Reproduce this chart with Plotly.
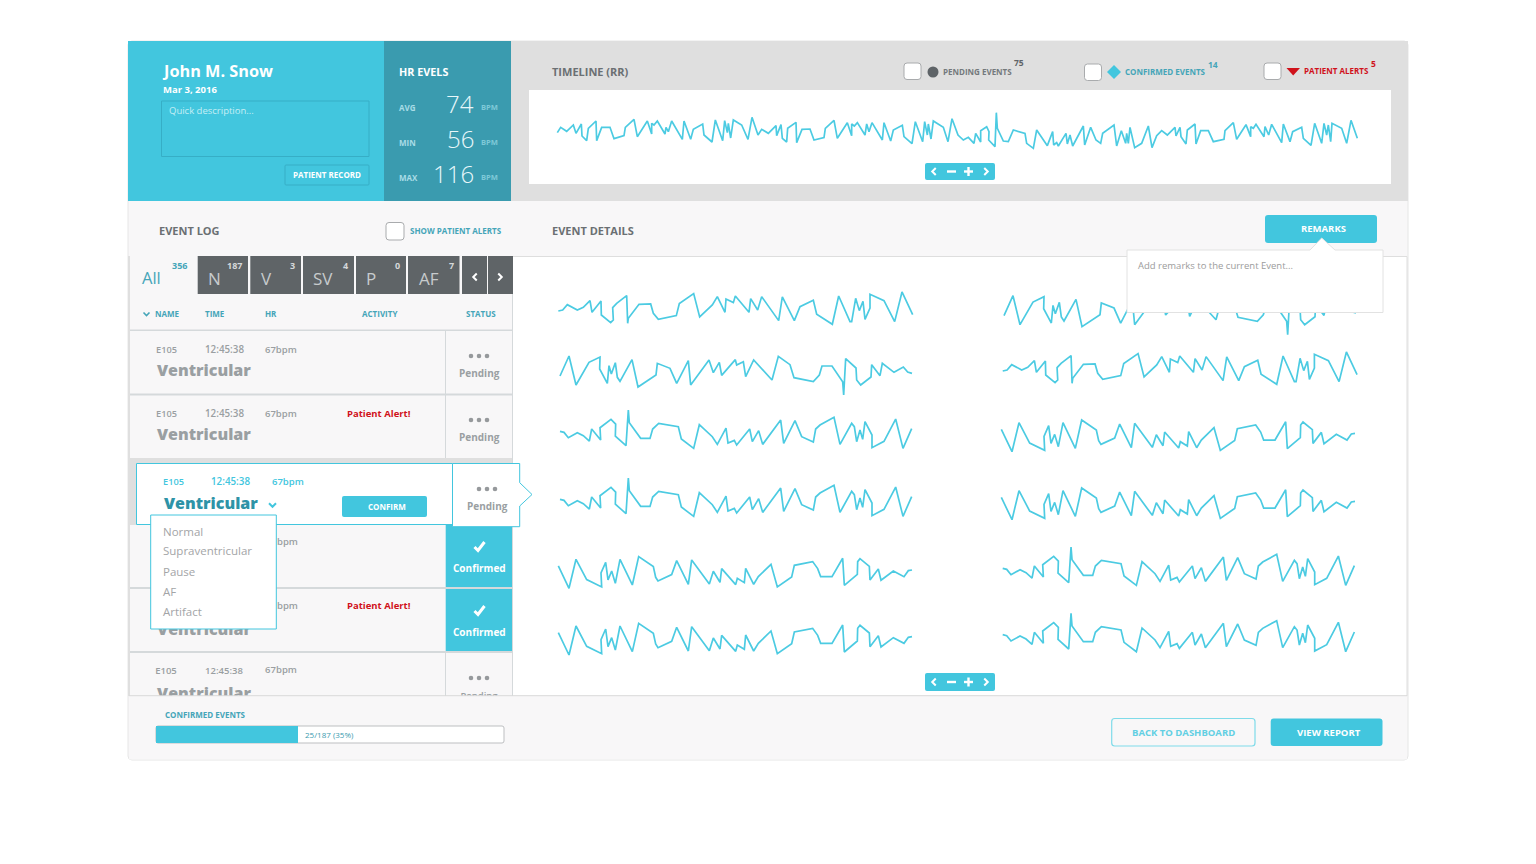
import plotly.graph_objects as go

# waveforms: time, amplitude
wave_a_t = [55,68,82,112,130,150,156,183,184,212,220,218,230,260,263,265,297,332,340,355,409,418,461,479,517,532,555,558,580,586,627,632,653,665,716,727,763,780,820,830,877,896,930,935,947,958,969,975,990,990,1032,1064,1086,1118]
wave_a_v = [-8,-5,11,-5,3,23,-12,22,-20,-43,-35,2,15,38,-45,-30,12,13,-15,-33,-22,14,44,-26,10,35,-12,28,17,37,-12,29,-5,35,-37,34,-37,5,24,-18,-48,37,-40,-40,30,-7,21,-33,1,42,23,-40,49,-19]
wave_b_t = [60,87,108,147,180,179,202,207,214,226,232,240,276,294,348,352,390,410,445,452,507,520,538,545,586,590,610,617,641,696,715,750,762,820,838,846,876,908,911,917,948,950,962,993,995,1020,1027,1062,1090,1103,1116]
wave_b_v = [-3,57,-30,38,54,18,-25,28,3,37,-7,-19,46,-36,0,35,20,-25,43,-30,45,7,38,-1,46,30,40,-5,45,-15,56,31,-8,-20,0,27,27,-20,-60,49,21,-15,-30,-6,31,-2,35,8,24,9,5]
wave_c_t = [60,72,85,112,130,148,155,182,180,213,227,226,258,265,268,302,330,338,356,415,424,461,478,517,532,558,564,583,590,629,637,656,668,722,731,765,785,820,827,840,882,900,935,943,950,960,968,975,996,996,1032,1067,1089,1115]
wave_c_v = [1,-2,-18,-3,-12,-28,8,-25,12,37,23,-13,-42,65,27,-20,-20,8,25,15,-22,-50,21,-15,-38,11,-34,-26,-40,8,-30,3,-38,35,-35,33,-15,-31,8,20,43,-38,25,15,-30,5,-23,30,-10,-48,-29,38,-50,9]
wave_d_t = [55,87,108,140,185,183,197,204,215,226,240,277,296,340,347,354,395,410,445,455,508,520,540,545,587,592,613,617,641,655,693,712,755,763,818,833,842,876,908,913,952,953,960,988,990,1015,1023,1060,1092,1105,1116]
wave_d_v = [22,-45,42,-19,-41,1,33,-20,7,-30,42,-35,50,20,-12,-23,-4,38,-33,40,-32,6,-27,14,-34,-15,-28,15,-33,-10,27,-41,-11,24,35,14,-10,-10,45,-36,-3,35,44,21,-20,13,-21,7,-10,8,10]
timeline_t = [112,122,140,160,168,184,186,200,205,228,230,245,270,282,312,316,342,352,382,395,395,402,412,435,438,445,455,487,492,512,520,548,552,576,586,608,614,622,625,632,640,665,684,696,714,725,745,768,770,783,787,800,803,828,830,846,870,882,912,916,942,952,982,995,995,1003,1012,1035,1040,1047,1056,1087,1092,1112,1120,1147,1152,1176,1186,1208,1214,1222,1225,1233,1240,1270,1284,1296,1314,1330,1345,
              1362,1367,1382,1382,1400,1407,1406,1425,1429,1432,1450,1465,1480,1515,1520,1540,1550,1582,1598,1601,1610,1615,1638,1642,1650,1658,1690,1694,1712,1728,1742,1748,1782,1790,1804,1817,1820,1825,1830,1844,1865,1885,1896,1910,1925,1942,1965,1968,1980,1983,1998,2002,2025,2028,2042,2065,2080,2112,2115,2140,2150,2178,2192,2192,2200,2208,2232,2235,2246,2255,2285,2290,2310,2318,2345,2350,2373,2384,2405,2412,2420,2425,2432,2436,2465,2480,2493,2512]
timeline_v = [-3,13,1,20,-5,23,-13,-27,10,32,-27,13,13,-21,-12,13,37,-15,32,-7,25,20,32,-7,13,0,32,-23,32,-23,7,23,-10,-31,35,-27,33,-3,25,-19,35,20,-23,43,-10,7,-5,18,-12,21,-20,-31,10,28,-33,7,8,-25,-18,10,34,-20,27,-12,23,17,27,-10,23,0,27,-25,27,-28,5,19,-15,-36,30,-30,30,-10,23,-22,32,13,-30,39,-10,-25,-17,
              -35,-5,-31,3,15,0,-25,-45,57,10,-28,-30,5,-5,-35,-50,5,-42,0,-40,-33,-43,-5,-37,-10,-43,17,-40,13,-25,-35,-5,20,-43,3,-35,-5,-35,13,-48,-35,17,-48,-12,3,-10,13,-13,13,-15,-37,5,23,-37,3,3,-30,-23,3,27,-23,21,-15,15,10,22,-15,15,-10,22,-33,23,-30,0,13,-20,-41,25,-35,25,-10,20,-30,25,10,-35,34,-20]

# tabs and readings
tab_labels = ["N", "V", "SV", "P", "AF"]
tab_counts = [187, 3, 4, 0, 7]
hr_labels = ["AVG", "MIN", "MAX"]
hr_values = [74, 56, 116]
dropdown_items = ["Normal", "Supraventricular", "Pause", "AF", "Artifact"]

CYAN = "#42C6DE"
TEAL = "#3A9BAF"
TEAL_TXT = "#45A5B8"
GREY_BG = "#DFDFDF"
PANEL = "#F8F7F8"
TAB = "#5F6467"
ROW_LINE = "#D5D9DB"
MUTED = "#9A9FA2"
HEAD = "#6B7073"
RED = "#D0121B"
FONT = "Open Sans"

shapes = []
annotations = []


def rect(x0, y0, x1, y1, fill=None, line=None, lw=1, r=0, layer="below"):
    if r:
        p = (f"M{x0+r},{y0} L{x1-r},{y0} Q{x1},{y0} {x1},{y0+r} L{x1},{y1-r} Q{x1},{y1} {x1-r},{y1} "
             f"L{x0+r},{y1} Q{x0},{y1} {x0},{y1-r} L{x0},{y0+r} Q{x0},{y0} {x0+r},{y0} Z")
        s = dict(type="path", path=p)
    else:
        s = dict(type="rect", x0=x0, y0=y0, x1=x1, y1=y1)
    s.update(xref="x", yref="y", layer=layer, fillcolor=fill or "rgba(0,0,0,0)",
             line=dict(color=line or "rgba(0,0,0,0)", width=lw if line else 0))
    shapes.append(s)


def path(p, fill=None, line=None, lw=1, layer="below"):
    shapes.append(dict(type="path", path=p, xref="x", yref="y", layer=layer,
                       fillcolor=fill or "rgba(0,0,0,0)",
                       line=dict(color=line or "rgba(0,0,0,0)", width=lw if line else 0)))


def dot(cx, cy, r, fill, layer="below"):
    shapes.append(dict(type="circle", x0=cx-r, y0=cy-r, x1=cx+r, y1=cy+r, xref="x", yref="y",
                       layer=layer, fillcolor=fill, line=dict(width=0)))


def txt(x, y, s, size, color, weight=400, anchor="left"):
    # annotations land about a pixel low and to the right
    dx = 2 if anchor == "left" else 1
    annotations.append(dict(x=x-dx, y=y-1, xref="x", yref="y", text=s, showarrow=False, xanchor=anchor,
                            yanchor="middle", borderpad=0,
                            font=dict(family=FONT, size=size, color=color, weight=weight)))


def chevron(cx, cy, d, color="white", lw=2, s=3.5):
    # d: left, right, down
    if d == "left":
        path(f"M{cx+s/2},{cy-s} L{cx-s/2},{cy} L{cx+s/2},{cy+s}", line=color, lw=lw)
    elif d == "right":
        path(f"M{cx-s/2},{cy-s} L{cx+s/2},{cy} L{cx-s/2},{cy+s}", line=color, lw=lw)
    else:
        path(f"M{cx-s},{cy-s/2} L{cx},{cy+s/2} L{cx+s},{cy-s/2}", line=color, lw=lw)


def pager(y0, y1):
    cy = (y0+y1)/2
    rect(925, y0, 995, y1, fill=CYAN, r=2)
    chevron(934, cy, "left")
    chevron(986, cy, "right")
    rect(947, cy-1.2, 956, cy+1.2, fill="white")
    rect(964, cy-1.2, 973, cy+1.2, fill="white")
    rect(967.3, cy-4.5, 969.7, cy+4.5, fill="white")


def checkbox(x0, y0, x1, y1):
    rect(x0, y0, x1, y1, fill="white", line="#A9ABAD", lw=1, r=3)


def dots(cx, cy, color="#96999C"):
    for dx in (-8, 0, 8):
        dot(cx+dx, cy, 2.3, color)


def tick(cx, cy):
    path(f"M{cx-5},{cy} L{cx-1.5},{cy+3.5} L{cx+5},{cy-5}", line="white", lw=3)


# card and header blocks
rect(128, 41, 1408, 760, fill=PANEL, line="#E6E6E6", r=4)
rect(128, 41, 384, 201, fill=CYAN)
rect(384, 41, 511, 201, fill=TEAL)
rect(511, 41, 1408, 201, fill=GREY_BG)
rect(529, 90, 1391, 184, fill="white")

txt(162.5, 72, "John M. Snow", 16.3, "white", 700)
txt(163.5, 90, "Mar 3, 2016", 9.5, "white", 700)
rect(161.5, 101, 369, 156.5, line="#36AEC6", lw=1)
txt(170, 111, "Quick description...", 9.5, "#C6EEF5")
rect(285, 165, 369, 185, line="#36AEC6", lw=1, r=1)
txt(327.5, 175, "PATIENT RECORD", 8, "white", 700, "center")

txt(399.5, 72, "HR EVELS", 10.8, "white", 700)
for i, y in enumerate([104, 139, 174]):
    txt(400, y+4, hr_labels[i], 8, "#A8DCE6", 700)
    txt(476, y, str(hr_values[i]), 24, "#E8F7FA", 300, "right")
    txt(482, y+4, "BPM", 7.6, "#7FC9D8", 700)

# timeline header
txt(552.5, 72, "TIMELINE (RR)", 11, HEAD, 700)
checkbox(904, 63, 921, 79.5)
dot(933, 72, 5.5, "#5E6367")
txt(943.5, 72, "PENDING EVENTS", 8, "#74797C", 700)
txt(1014.5, 63, "75", 8.5, "#5E6367", 700)
checkbox(1084.5, 64, 1101.5, 80.5)
path("M1114,65 L1121,72 L1114,79 L1107,72 Z", fill=CYAN)
txt(1125.5, 72.5, "CONFIRMED EVENTS", 8, TEAL_TXT, 700)
txt(1208.5, 65, "14", 8.5, TEAL_TXT, 700)
checkbox(1264, 63, 1281, 79.5)
path("M1286.5,68 L1300,68 L1293.2,75.5 Z", fill=RED)
txt(1304.5, 71.5, "PATIENT ALERTS", 8, RED, 700)
txt(1371.5, 64, "5", 8.5, RED, 700)
pager(163, 180)

# event log title row
txt(159.5, 231, "EVENT LOG", 11, HEAD, 700)
checkbox(386, 222.5, 404, 240)
txt(410.5, 231, "SHOW PATIENT ALERTS", 8, TEAL_TXT, 700)
txt(552.5, 231, "EVENT DETAILS", 11, HEAD, 700)

# detail area
rect(513, 257, 1407, 695.5, fill="white")
shapes.append(dict(type="line", x0=513, x1=1407, y0=256.5, y1=256.5, xref="x", yref="y", layer="below",
                   line=dict(color="#DEDEDE", width=1)))
shapes.append(dict(type="line", x0=1407, x1=1407, y0=256.5, y1=696, xref="x", yref="y", layer="below",
                   line=dict(color="#DEDEDE", width=1)))
pager(673, 691)

# tabs
rect(128, 256, 130, 696, fill=GREY_BG)
txt(143, 278, "All", 16.5, TEAL_TXT, 400)
txt(189, 266, "356", 9, TEAL_TXT, 700, "right")
tab_x0 = [197.7, 250.3, 303, 356, 408]
tab_x1 = [248, 301, 354, 406, 459.5]
tab_cx = [215, 267, 324, 372, 430]
for i in range(5):
    rect(tab_x0[i], 256, tab_x1[i], 294, fill=TAB)
    txt(tab_cx[i], 279, tab_labels[i], 17, "#C7CBCD", 400, "center")
    txt(tab_x1[i]-4, 266, str(tab_counts[i]), 9, "#D5D8DA", 700, "right")
rect(462, 256, 487, 294, fill=TAB)
rect(488, 256, 513, 294, fill=TAB)
chevron(475, 277, "left")
chevron(500, 277, "right")

chevron(146.5, 314, "down", TEAL_TXT, 1.6, 3)
txt(155.5, 314, "NAME", 8, TEAL_TXT, 700)
txt(216, 314, "TIME", 8, TEAL_TXT, 700, "center")
txt(271.5, 314, "HR", 8, TEAL_TXT, 700, "center")
txt(380, 314, "ACTIVITY", 8, TEAL_TXT, 700, "center")
txt(481.5, 314, "STATUS", 8, TEAL_TXT, 700, "center")

# rows
rect(130, 329.5, 512, 331, fill=ROW_LINE)
rect(130, 393.5, 512, 395.5, fill=ROW_LINE)
rect(128, 458, 513, 463, fill=GREY_BG)
rect(128, 458, 136, 525, fill=GREY_BG)
rect(130, 587, 512, 589, fill=ROW_LINE)
rect(130, 651, 512, 653, fill=ROW_LINE)
rect(512, 294, 513, 696, fill=ROW_LINE)
for y0, y1 in [(331, 394), (395, 458), (653, 696)]:
    rect(445, y0, 446, y1, fill=ROW_LINE)

for y in [350, 414]:
    txt(167, y, "E105", 9.2, MUTED, 600, "center")
    txt(225, y, "12:45:38", 9.8, MUTED, 600, "center")
    txt(282, y, "67bpm", 9.5, MUTED, 600, "center")
    txt(158, y+21, "Ventricular", 16, MUTED, 800)
    dots(479, y+6)
    txt(480, y+24, "Pending", 10, MUTED, 700, "center")
txt(379.5, 414, "Patient Alert!", 9.5, RED, 700, "center")

# what the dropdown leaves of rows 4 and 5
txt(278, 542, "bpm", 9.5, MUTED, 600)
txt(278, 606, "bpm", 9.5, MUTED, 600)

# confirmed cells
for y0, y1, yt in [(525, 587, 547), (589, 651, 611)]:
    rect(445.7, y0, 512, y1, fill=CYAN)
    tick(479.5, yt)
    txt(480, yt+22, "Confirmed", 10, "white", 700, "center")
txt(379.5, 606, "Patient Alert!", 9.5, RED, 700, "center")
dots(479, 678)

# selected row
rect(136.5, 463.5, 452.5, 524.5, fill="white", line=CYAN, lw=1)
path("M452.5,463.5 L519.7,463.5 L519.7,482.7 L532,494.5 L519.7,506 L519.7,526.7 L452.5,526.7 Z",
     fill="white", line=CYAN, lw=1)
txt(174, 482, "E105", 9.2, CYAN, 600, "center")
txt(231, 482, "12:45:38", 9.8, CYAN, 600, "center")
txt(289, 482, "67bpm", 9.5, CYAN, 600, "center")
txt(165, 504, "Ventricular", 16, "#2E93A7", 800)
chevron(272.5, 505, "down", CYAN, 2, 3.5)
rect(342, 496, 427, 517, fill=CYAN, r=2)
txt(388, 507, "CONFIRM", 8, "white", 700, "center")
dots(487, 489)
txt(488, 507, "Pending", 10, MUTED, 700, "center")

# footer (covers the last row)
rect(129, 696, 1407, 759.5, fill=PANEL, layer="above")
shapes.append(dict(type="line", x0=129, x1=1407, y0=695.7, y1=695.7, xref="x", yref="y", layer="above",
                   line=dict(color="#D9D9D9", width=1)))
txt(165.5, 715, "CONFIRMED EVENTS", 8, TEAL_TXT, 700)
rect(156, 726, 504, 743, fill="white", line="#BDBFC1", lw=1, r=2, layer="above")
rect(156, 726, 298, 743, fill=CYAN, layer="above")
txt(305.5, 735, "25/187 (35%)", 8, TEAL, 400)
rect(1111.7, 718.5, 1255, 746, fill=PANEL, line="#7FDBE9", lw=1.2, r=3, layer="above")
txt(1184, 733, "BACK TO DASHBOARD", 9.5, "#62CFE3", 700, "center")
rect(1270.7, 718.5, 1382.5, 746, fill=CYAN, r=3, layer="above")
txt(1330, 733, "VIEW REPORT", 9.5, "white", 700, "center")

# remarks button and its popup over the first right trace
rect(1265, 215, 1377, 243, fill=CYAN, r=3)
txt(1324, 229.5, "REMARKS", 9.5, "white", 700, "center")
path("M1127,250 L1310,250 L1321.7,238 L1335,250 L1383,250 L1383,312.5 L1127,312.5 Z",
     fill="white", line="#E2E2E2", lw=1, layer="above")
txt(1138.5, 266, "Add remarks to the current Event...", 9.5, "#9C9C9C")

# dropdown over rows 4 and 5
rect(150.7, 515, 276.3, 629, fill="white", line=CYAN, lw=1, layer="above")
for item, y in zip(dropdown_items, [532, 551, 572, 592, 612]):
    txt(163.5, y, item, 11.5, "#A3A5A7")

fig = go.Figure()

# row text that the dropdown and footer cut off
fig.add_trace(go.Scatter(
    x=[166, 224, 281, 479], y=[672, 672, 671, 697],
    text=["E105", "12:45:38", "67bpm", "Pending"],
    mode="text", textposition="middle center", hoverinfo="skip", showlegend=False,
    textfont=dict(family=FONT, size=9.5, color=MUTED, weight=600), xaxis="x", yaxis="y"))
fig.add_trace(go.Scatter(
    x=[204, 204], y=[631, 695], text=["Ventricular"]*2,
    mode="text", textposition="middle center", hoverinfo="skip", showlegend=False,
    textfont=dict(family=FONT, size=16, color=MUTED, weight=800), xaxis="x", yaxis="y"))

# panels: wave, left of time 0 in px, centre line in px
waves = {"A": (wave_a_t, wave_a_v), "B": (wave_b_t, wave_b_v), "C": (wave_c_t, wave_c_v), "D": (wave_d_t, wave_d_v)}
panels = [("A", 540, 308.3), ("B", 540, 375), ("C", 540, 431.7), ("C", 540, 499.7), ("D", 540, 573.3), ("D", 540, 640),
          ("B", 984, 314.7), ("A", 984.4, 368.3), ("D", 983, 436.7), ("D", 983, 504.7), ("C", 982.7, 568.7), ("C", 982.7, 635)]

axes = {}
WAVE_LINE = dict(color="#4CCBE2", width=1.7)


def add_panel(n, t, v, x0, x1, y0, y1, trange, vrange):
    axes[f"xaxis{n}"] = dict(domain=[x0/1536, x1/1536], range=trange, visible=False, fixedrange=True, anchor=f"y{n}")
    axes[f"yaxis{n}"] = dict(domain=[1-y1/864, 1-y0/864], range=vrange, visible=False, fixedrange=True, anchor=f"x{n}")
    fig.add_trace(go.Scatter(x=t, y=v, mode="lines", line=WAVE_LINE, xaxis=f"x{n}", yaxis=f"y{n}",
                             hoverinfo="skip", showlegend=False))


add_panel(2, timeline_t, timeline_v, 529, 1391, 90, 184, [27, 2613], [-157, 125])
for i, (name, x_left, cy) in enumerate(panels):
    t, v = waves[name]
    add_panel(i+3, t, v, x_left, x_left+390, cy-30, cy+30, [0, 1170], [-90, 90])

fig.update_layout(
    width=1536, height=864, margin=dict(l=0, r=0, t=0, b=0, pad=0), autosize=False,
    paper_bgcolor="white", plot_bgcolor="rgba(0,0,0,0)", showlegend=False,
    xaxis=dict(range=[0, 1536], domain=[0, 1], visible=False, fixedrange=True),
    yaxis=dict(range=[864, 0], domain=[0, 1], visible=False, fixedrange=True),
    shapes=shapes, annotations=annotations, **axes)

fig.write_html("out.html", post_script="document.body.style.margin='0';document.body.style.overflow='hidden';",
               config=dict(displayModeBar=False))
